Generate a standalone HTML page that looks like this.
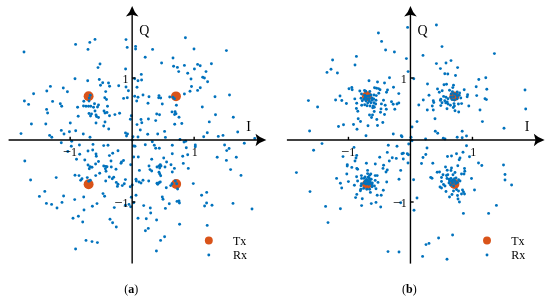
<!DOCTYPE html>
<html><head><meta charset="utf-8"><style>
html,body{margin:0;padding:0;background:#fff;}
svg{display:block;}
</style></head><body>
<svg width="550" height="300" viewBox="0 0 550 300">
<rect width="550" height="300" fill="#fff"/>
<circle cx="88.60" cy="96.25" r="4.95" fill="#D95319"/>
<circle cx="176.00" cy="96.35" r="4.95" fill="#D95319"/>
<circle cx="88.60" cy="184.30" r="4.95" fill="#D95319"/>
<circle cx="176.20" cy="184.00" r="4.95" fill="#D95319"/>
<circle cx="24.0" cy="52.0" r="1.45" fill="#0072BD"/>
<circle cx="75.6" cy="44.4" r="1.45" fill="#0072BD"/>
<circle cx="89.8" cy="42.4" r="1.45" fill="#0072BD"/>
<circle cx="95.0" cy="39.4" r="1.45" fill="#0072BD"/>
<circle cx="88.0" cy="49.4" r="1.45" fill="#0072BD"/>
<circle cx="100.0" cy="64.0" r="1.45" fill="#0072BD"/>
<circle cx="98.0" cy="67.6" r="1.45" fill="#0072BD"/>
<circle cx="126.0" cy="39.6" r="1.45" fill="#0072BD"/>
<circle cx="127.2" cy="47.4" r="1.45" fill="#0072BD"/>
<circle cx="135.6" cy="46.4" r="1.45" fill="#0072BD"/>
<circle cx="135.6" cy="49.0" r="1.45" fill="#0072BD"/>
<circle cx="152.6" cy="49.4" r="1.45" fill="#0072BD"/>
<circle cx="145.2" cy="57.2" r="1.45" fill="#0072BD"/>
<circle cx="161.6" cy="63.0" r="1.45" fill="#0072BD"/>
<circle cx="173.0" cy="58.0" r="1.45" fill="#0072BD"/>
<circle cx="173.6" cy="66.2" r="1.45" fill="#0072BD"/>
<circle cx="177.4" cy="67.4" r="1.45" fill="#0072BD"/>
<circle cx="125.6" cy="69.0" r="1.45" fill="#0072BD"/>
<circle cx="185.4" cy="37.8" r="1.45" fill="#0072BD"/>
<circle cx="194.0" cy="49.0" r="1.45" fill="#0072BD"/>
<circle cx="226.4" cy="50.6" r="1.45" fill="#0072BD"/>
<circle cx="184.4" cy="65.4" r="1.45" fill="#0072BD"/>
<circle cx="197.6" cy="64.4" r="1.45" fill="#0072BD"/>
<circle cx="200.2" cy="65.8" r="1.45" fill="#0072BD"/>
<circle cx="211.4" cy="63.8" r="1.45" fill="#0072BD"/>
<circle cx="194.4" cy="69.0" r="1.45" fill="#0072BD"/>
<circle cx="50.4" cy="86.4" r="1.45" fill="#0072BD"/>
<circle cx="46.8" cy="91.0" r="1.45" fill="#0072BD"/>
<circle cx="33.6" cy="93.8" r="1.45" fill="#0072BD"/>
<circle cx="24.4" cy="101.0" r="1.45" fill="#0072BD"/>
<circle cx="28.6" cy="104.4" r="1.45" fill="#0072BD"/>
<circle cx="52.6" cy="101.4" r="1.45" fill="#0072BD"/>
<circle cx="46.6" cy="109.4" r="1.45" fill="#0072BD"/>
<circle cx="47.6" cy="113.0" r="1.45" fill="#0072BD"/>
<circle cx="31.4" cy="124.0" r="1.45" fill="#0072BD"/>
<circle cx="45.8" cy="124.0" r="1.45" fill="#0072BD"/>
<circle cx="75.0" cy="78.8" r="1.45" fill="#0072BD"/>
<circle cx="63.3" cy="88.0" r="1.45" fill="#0072BD"/>
<circle cx="67.4" cy="91.8" r="1.45" fill="#0072BD"/>
<circle cx="87.7" cy="80.7" r="1.45" fill="#0072BD"/>
<circle cx="99.3" cy="79.5" r="1.45" fill="#0072BD"/>
<circle cx="102.7" cy="82.8" r="1.45" fill="#0072BD"/>
<circle cx="100.5" cy="85.3" r="1.45" fill="#0072BD"/>
<circle cx="108.5" cy="83.0" r="1.45" fill="#0072BD"/>
<circle cx="109.6" cy="86.2" r="1.45" fill="#0072BD"/>
<circle cx="105.7" cy="91.6" r="1.45" fill="#0072BD"/>
<circle cx="104.8" cy="97.8" r="1.45" fill="#0072BD"/>
<circle cx="89.3" cy="97.9" r="1.45" fill="#0072BD"/>
<circle cx="60.3" cy="103.7" r="1.45" fill="#0072BD"/>
<circle cx="61.7" cy="106.2" r="1.45" fill="#0072BD"/>
<circle cx="77.6" cy="107.2" r="1.45" fill="#0072BD"/>
<circle cx="78.2" cy="116.2" r="1.45" fill="#0072BD"/>
<circle cx="70.3" cy="123.0" r="1.45" fill="#0072BD"/>
<circle cx="83.8" cy="101.2" r="1.45" fill="#0072BD"/>
<circle cx="83.5" cy="106.0" r="1.45" fill="#0072BD"/>
<circle cx="89.0" cy="101.0" r="1.45" fill="#0072BD"/>
<circle cx="86.0" cy="106.2" r="1.45" fill="#0072BD"/>
<circle cx="88.5" cy="106.2" r="1.45" fill="#0072BD"/>
<circle cx="90.7" cy="106.2" r="1.45" fill="#0072BD"/>
<circle cx="94.5" cy="103.8" r="1.45" fill="#0072BD"/>
<circle cx="93.5" cy="107.2" r="1.45" fill="#0072BD"/>
<circle cx="98.5" cy="105.0" r="1.45" fill="#0072BD"/>
<circle cx="97.5" cy="107.0" r="1.45" fill="#0072BD"/>
<circle cx="95.0" cy="111.0" r="1.45" fill="#0072BD"/>
<circle cx="106.5" cy="99.5" r="1.45" fill="#0072BD"/>
<circle cx="107.5" cy="106.2" r="1.45" fill="#0072BD"/>
<circle cx="104.0" cy="111.0" r="1.45" fill="#0072BD"/>
<circle cx="105.0" cy="113.0" r="1.45" fill="#0072BD"/>
<circle cx="107.0" cy="112.5" r="1.45" fill="#0072BD"/>
<circle cx="89.0" cy="113.5" r="1.45" fill="#0072BD"/>
<circle cx="91.5" cy="114.0" r="1.45" fill="#0072BD"/>
<circle cx="90.5" cy="116.0" r="1.45" fill="#0072BD"/>
<circle cx="96.0" cy="115.0" r="1.45" fill="#0072BD"/>
<circle cx="96.5" cy="116.5" r="1.45" fill="#0072BD"/>
<circle cx="98.5" cy="117.5" r="1.45" fill="#0072BD"/>
<circle cx="96.0" cy="123.0" r="1.45" fill="#0072BD"/>
<circle cx="105.0" cy="122.0" r="1.45" fill="#0072BD"/>
<circle cx="141.3" cy="74.4" r="1.45" fill="#0072BD"/>
<circle cx="134.7" cy="78.7" r="1.45" fill="#0072BD"/>
<circle cx="138.0" cy="80.7" r="1.45" fill="#0072BD"/>
<circle cx="141.6" cy="80.0" r="1.45" fill="#0072BD"/>
<circle cx="118.7" cy="85.7" r="1.45" fill="#0072BD"/>
<circle cx="126.0" cy="87.0" r="1.45" fill="#0072BD"/>
<circle cx="128.4" cy="90.7" r="1.45" fill="#0072BD"/>
<circle cx="137.0" cy="87.3" r="1.45" fill="#0072BD"/>
<circle cx="123.6" cy="98.4" r="1.45" fill="#0072BD"/>
<circle cx="127.3" cy="97.7" r="1.45" fill="#0072BD"/>
<circle cx="134.7" cy="96.3" r="1.45" fill="#0072BD"/>
<circle cx="138.0" cy="97.3" r="1.45" fill="#0072BD"/>
<circle cx="143.0" cy="95.0" r="1.45" fill="#0072BD"/>
<circle cx="136.7" cy="101.0" r="1.45" fill="#0072BD"/>
<circle cx="149.0" cy="96.7" r="1.45" fill="#0072BD"/>
<circle cx="148.0" cy="103.3" r="1.45" fill="#0072BD"/>
<circle cx="178.7" cy="71.6" r="1.45" fill="#0072BD"/>
<circle cx="187.7" cy="73.3" r="1.45" fill="#0072BD"/>
<circle cx="159.0" cy="95.6" r="1.45" fill="#0072BD"/>
<circle cx="158.7" cy="97.7" r="1.45" fill="#0072BD"/>
<circle cx="160.7" cy="98.0" r="1.45" fill="#0072BD"/>
<circle cx="169.7" cy="97.0" r="1.45" fill="#0072BD"/>
<circle cx="173.0" cy="97.3" r="1.45" fill="#0072BD"/>
<circle cx="174.4" cy="98.7" r="1.45" fill="#0072BD"/>
<circle cx="162.3" cy="104.0" r="1.45" fill="#0072BD"/>
<circle cx="176.4" cy="105.3" r="1.45" fill="#0072BD"/>
<circle cx="206.0" cy="71.6" r="1.45" fill="#0072BD"/>
<circle cx="202.7" cy="77.3" r="1.45" fill="#0072BD"/>
<circle cx="204.4" cy="78.0" r="1.45" fill="#0072BD"/>
<circle cx="191.0" cy="79.0" r="1.45" fill="#0072BD"/>
<circle cx="191.5" cy="86.5" r="1.45" fill="#0072BD"/>
<circle cx="190.0" cy="91.3" r="1.45" fill="#0072BD"/>
<circle cx="184.4" cy="94.0" r="1.45" fill="#0072BD"/>
<circle cx="207.6" cy="81.7" r="1.45" fill="#0072BD"/>
<circle cx="200.3" cy="87.7" r="1.45" fill="#0072BD"/>
<circle cx="197.6" cy="90.4" r="1.45" fill="#0072BD"/>
<circle cx="215.0" cy="96.7" r="1.45" fill="#0072BD"/>
<circle cx="229.5" cy="95.0" r="1.45" fill="#0072BD"/>
<circle cx="202.3" cy="107.0" r="1.45" fill="#0072BD"/>
<circle cx="109.5" cy="115.8" r="1.45" fill="#0072BD"/>
<circle cx="114.9" cy="114.6" r="1.45" fill="#0072BD"/>
<circle cx="119.6" cy="113.2" r="1.45" fill="#0072BD"/>
<circle cx="131.3" cy="115.8" r="1.45" fill="#0072BD"/>
<circle cx="130.4" cy="119.2" r="1.45" fill="#0072BD"/>
<circle cx="141.0" cy="119.5" r="1.45" fill="#0072BD"/>
<circle cx="141.8" cy="122.8" r="1.45" fill="#0072BD"/>
<circle cx="137.0" cy="124.6" r="1.45" fill="#0072BD"/>
<circle cx="148.4" cy="119.0" r="1.45" fill="#0072BD"/>
<circle cx="156.7" cy="114.0" r="1.45" fill="#0072BD"/>
<circle cx="159.5" cy="114.8" r="1.45" fill="#0072BD"/>
<circle cx="155.7" cy="120.6" r="1.45" fill="#0072BD"/>
<circle cx="172.0" cy="111.9" r="1.45" fill="#0072BD"/>
<circle cx="175.1" cy="111.7" r="1.45" fill="#0072BD"/>
<circle cx="174.6" cy="114.5" r="1.45" fill="#0072BD"/>
<circle cx="176.0" cy="113.8" r="1.45" fill="#0072BD"/>
<circle cx="179.0" cy="117.2" r="1.45" fill="#0072BD"/>
<circle cx="174.7" cy="124.3" r="1.45" fill="#0072BD"/>
<circle cx="181.8" cy="123.5" r="1.45" fill="#0072BD"/>
<circle cx="215.5" cy="114.7" r="1.45" fill="#0072BD"/>
<circle cx="209.3" cy="121.9" r="1.45" fill="#0072BD"/>
<circle cx="233.3" cy="117.3" r="1.45" fill="#0072BD"/>
<circle cx="207.3" cy="132.8" r="1.45" fill="#0072BD"/>
<circle cx="203.7" cy="136.7" r="1.45" fill="#0072BD"/>
<circle cx="218.3" cy="136.4" r="1.45" fill="#0072BD"/>
<circle cx="223.0" cy="135.4" r="1.45" fill="#0072BD"/>
<circle cx="237.7" cy="132.0" r="1.45" fill="#0072BD"/>
<circle cx="224.6" cy="145.0" r="1.45" fill="#0072BD"/>
<circle cx="229.1" cy="148.5" r="1.45" fill="#0072BD"/>
<circle cx="226.7" cy="150.6" r="1.45" fill="#0072BD"/>
<circle cx="244.3" cy="143.3" r="1.45" fill="#0072BD"/>
<circle cx="217.2" cy="157.2" r="1.45" fill="#0072BD"/>
<circle cx="236.3" cy="157.2" r="1.45" fill="#0072BD"/>
<circle cx="226.4" cy="160.4" r="1.45" fill="#0072BD"/>
<circle cx="21.0" cy="133.6" r="1.45" fill="#0072BD"/>
<circle cx="49.6" cy="135.4" r="1.45" fill="#0072BD"/>
<circle cx="51.8" cy="137.2" r="1.45" fill="#0072BD"/>
<circle cx="24.8" cy="161.0" r="1.45" fill="#0072BD"/>
<circle cx="61.3" cy="130.4" r="1.45" fill="#0072BD"/>
<circle cx="64.0" cy="134.0" r="1.45" fill="#0072BD"/>
<circle cx="69.4" cy="131.7" r="1.45" fill="#0072BD"/>
<circle cx="75.7" cy="130.7" r="1.45" fill="#0072BD"/>
<circle cx="83.3" cy="134.0" r="1.45" fill="#0072BD"/>
<circle cx="90.0" cy="137.3" r="1.45" fill="#0072BD"/>
<circle cx="61.3" cy="142.7" r="1.45" fill="#0072BD"/>
<circle cx="71.7" cy="141.3" r="1.45" fill="#0072BD"/>
<circle cx="71.3" cy="146.3" r="1.45" fill="#0072BD"/>
<circle cx="79.4" cy="145.0" r="1.45" fill="#0072BD"/>
<circle cx="93.0" cy="144.4" r="1.45" fill="#0072BD"/>
<circle cx="67.8" cy="151.5" r="1.45" fill="#0072BD"/>
<circle cx="88.0" cy="151.0" r="1.45" fill="#0072BD"/>
<circle cx="92.7" cy="150.0" r="1.45" fill="#0072BD"/>
<circle cx="79.7" cy="154.3" r="1.45" fill="#0072BD"/>
<circle cx="76.5" cy="159.3" r="1.45" fill="#0072BD"/>
<circle cx="84.8" cy="160.0" r="1.45" fill="#0072BD"/>
<circle cx="103.7" cy="126.0" r="1.45" fill="#0072BD"/>
<circle cx="108.7" cy="129.0" r="1.45" fill="#0072BD"/>
<circle cx="125.5" cy="133.0" r="1.45" fill="#0072BD"/>
<circle cx="127.5" cy="134.0" r="1.45" fill="#0072BD"/>
<circle cx="126.5" cy="136.0" r="1.45" fill="#0072BD"/>
<circle cx="133.0" cy="136.7" r="1.45" fill="#0072BD"/>
<circle cx="132.3" cy="140.0" r="1.45" fill="#0072BD"/>
<circle cx="103.7" cy="145.6" r="1.45" fill="#0072BD"/>
<circle cx="108.0" cy="145.3" r="1.45" fill="#0072BD"/>
<circle cx="118.0" cy="150.7" r="1.45" fill="#0072BD"/>
<circle cx="112.7" cy="153.3" r="1.45" fill="#0072BD"/>
<circle cx="109.4" cy="155.6" r="1.45" fill="#0072BD"/>
<circle cx="96.0" cy="154.0" r="1.45" fill="#0072BD"/>
<circle cx="96.3" cy="156.3" r="1.45" fill="#0072BD"/>
<circle cx="133.7" cy="146.0" r="1.45" fill="#0072BD"/>
<circle cx="133.7" cy="157.0" r="1.45" fill="#0072BD"/>
<circle cx="140.3" cy="130.0" r="1.45" fill="#0072BD"/>
<circle cx="138.0" cy="137.0" r="1.45" fill="#0072BD"/>
<circle cx="147.7" cy="134.3" r="1.45" fill="#0072BD"/>
<circle cx="157.7" cy="134.0" r="1.45" fill="#0072BD"/>
<circle cx="164.6" cy="131.4" r="1.45" fill="#0072BD"/>
<circle cx="165.4" cy="137.4" r="1.45" fill="#0072BD"/>
<circle cx="152.3" cy="141.7" r="1.45" fill="#0072BD"/>
<circle cx="135.0" cy="146.3" r="1.45" fill="#0072BD"/>
<circle cx="145.3" cy="144.7" r="1.45" fill="#0072BD"/>
<circle cx="154.3" cy="145.3" r="1.45" fill="#0072BD"/>
<circle cx="155.7" cy="148.3" r="1.45" fill="#0072BD"/>
<circle cx="159.3" cy="148.3" r="1.45" fill="#0072BD"/>
<circle cx="172.3" cy="145.3" r="1.45" fill="#0072BD"/>
<circle cx="172.3" cy="153.7" r="1.45" fill="#0072BD"/>
<circle cx="138.3" cy="157.0" r="1.45" fill="#0072BD"/>
<circle cx="151.7" cy="159.3" r="1.45" fill="#0072BD"/>
<circle cx="163.7" cy="158.0" r="1.45" fill="#0072BD"/>
<circle cx="166.6" cy="162.0" r="1.45" fill="#0072BD"/>
<circle cx="160.3" cy="164.7" r="1.45" fill="#0072BD"/>
<circle cx="171.0" cy="164.7" r="1.45" fill="#0072BD"/>
<circle cx="180.0" cy="139.4" r="1.45" fill="#0072BD"/>
<circle cx="184.0" cy="142.0" r="1.45" fill="#0072BD"/>
<circle cx="185.7" cy="141.3" r="1.45" fill="#0072BD"/>
<circle cx="195.3" cy="145.0" r="1.45" fill="#0072BD"/>
<circle cx="195.3" cy="146.7" r="1.45" fill="#0072BD"/>
<circle cx="186.3" cy="147.7" r="1.45" fill="#0072BD"/>
<circle cx="182.7" cy="156.3" r="1.45" fill="#0072BD"/>
<circle cx="187.7" cy="154.7" r="1.45" fill="#0072BD"/>
<circle cx="183.3" cy="163.4" r="1.45" fill="#0072BD"/>
<circle cx="30.6" cy="180.0" r="1.45" fill="#0072BD"/>
<circle cx="56.2" cy="177.6" r="1.45" fill="#0072BD"/>
<circle cx="44.8" cy="191.4" r="1.45" fill="#0072BD"/>
<circle cx="39.4" cy="196.4" r="1.45" fill="#0072BD"/>
<circle cx="46.4" cy="203.4" r="1.45" fill="#0072BD"/>
<circle cx="51.6" cy="204.4" r="1.45" fill="#0072BD"/>
<circle cx="57.0" cy="208.0" r="1.45" fill="#0072BD"/>
<circle cx="88.0" cy="165.0" r="1.45" fill="#0072BD"/>
<circle cx="90.0" cy="166.7" r="1.45" fill="#0072BD"/>
<circle cx="92.0" cy="167.3" r="1.45" fill="#0072BD"/>
<circle cx="89.3" cy="168.7" r="1.45" fill="#0072BD"/>
<circle cx="95.6" cy="164.0" r="1.45" fill="#0072BD"/>
<circle cx="75.0" cy="175.3" r="1.45" fill="#0072BD"/>
<circle cx="79.0" cy="175.6" r="1.45" fill="#0072BD"/>
<circle cx="82.0" cy="178.7" r="1.45" fill="#0072BD"/>
<circle cx="80.7" cy="180.3" r="1.45" fill="#0072BD"/>
<circle cx="87.3" cy="177.6" r="1.45" fill="#0072BD"/>
<circle cx="95.7" cy="175.6" r="1.45" fill="#0072BD"/>
<circle cx="88.7" cy="181.3" r="1.45" fill="#0072BD"/>
<circle cx="63.6" cy="196.0" r="1.45" fill="#0072BD"/>
<circle cx="83.7" cy="197.0" r="1.45" fill="#0072BD"/>
<circle cx="74.7" cy="199.6" r="1.45" fill="#0072BD"/>
<circle cx="98.5" cy="161.5" r="1.45" fill="#0072BD"/>
<circle cx="111.0" cy="161.0" r="1.45" fill="#0072BD"/>
<circle cx="121.5" cy="162.0" r="1.45" fill="#0072BD"/>
<circle cx="123.5" cy="160.5" r="1.45" fill="#0072BD"/>
<circle cx="121.0" cy="163.3" r="1.45" fill="#0072BD"/>
<circle cx="130.7" cy="164.7" r="1.45" fill="#0072BD"/>
<circle cx="103.7" cy="166.0" r="1.45" fill="#0072BD"/>
<circle cx="105.7" cy="166.4" r="1.45" fill="#0072BD"/>
<circle cx="107.0" cy="166.7" r="1.45" fill="#0072BD"/>
<circle cx="105.4" cy="168.7" r="1.45" fill="#0072BD"/>
<circle cx="111.3" cy="167.0" r="1.45" fill="#0072BD"/>
<circle cx="106.0" cy="171.3" r="1.45" fill="#0072BD"/>
<circle cx="116.0" cy="169.3" r="1.45" fill="#0072BD"/>
<circle cx="99.7" cy="173.3" r="1.45" fill="#0072BD"/>
<circle cx="109.3" cy="177.0" r="1.45" fill="#0072BD"/>
<circle cx="112.3" cy="178.7" r="1.45" fill="#0072BD"/>
<circle cx="113.7" cy="177.3" r="1.45" fill="#0072BD"/>
<circle cx="105.7" cy="181.0" r="1.45" fill="#0072BD"/>
<circle cx="116.3" cy="182.4" r="1.45" fill="#0072BD"/>
<circle cx="118.0" cy="184.3" r="1.45" fill="#0072BD"/>
<circle cx="117.4" cy="186.4" r="1.45" fill="#0072BD"/>
<circle cx="125.4" cy="179.6" r="1.45" fill="#0072BD"/>
<circle cx="124.3" cy="183.7" r="1.45" fill="#0072BD"/>
<circle cx="122.3" cy="185.6" r="1.45" fill="#0072BD"/>
<circle cx="130.3" cy="186.7" r="1.45" fill="#0072BD"/>
<circle cx="132.3" cy="185.0" r="1.45" fill="#0072BD"/>
<circle cx="103.0" cy="193.6" r="1.45" fill="#0072BD"/>
<circle cx="104.6" cy="196.3" r="1.45" fill="#0072BD"/>
<circle cx="131.3" cy="197.3" r="1.45" fill="#0072BD"/>
<circle cx="149.0" cy="166.0" r="1.45" fill="#0072BD"/>
<circle cx="150.0" cy="169.6" r="1.45" fill="#0072BD"/>
<circle cx="151.7" cy="171.0" r="1.45" fill="#0072BD"/>
<circle cx="139.4" cy="170.4" r="1.45" fill="#0072BD"/>
<circle cx="157.0" cy="167.0" r="1.45" fill="#0072BD"/>
<circle cx="159.0" cy="166.0" r="1.45" fill="#0072BD"/>
<circle cx="161.0" cy="166.0" r="1.45" fill="#0072BD"/>
<circle cx="159.7" cy="168.0" r="1.45" fill="#0072BD"/>
<circle cx="165.0" cy="167.0" r="1.45" fill="#0072BD"/>
<circle cx="159.0" cy="172.3" r="1.45" fill="#0072BD"/>
<circle cx="159.7" cy="174.0" r="1.45" fill="#0072BD"/>
<circle cx="160.7" cy="175.7" r="1.45" fill="#0072BD"/>
<circle cx="172.3" cy="172.0" r="1.45" fill="#0072BD"/>
<circle cx="136.0" cy="179.3" r="1.45" fill="#0072BD"/>
<circle cx="136.3" cy="181.0" r="1.45" fill="#0072BD"/>
<circle cx="139.0" cy="182.0" r="1.45" fill="#0072BD"/>
<circle cx="141.0" cy="183.0" r="1.45" fill="#0072BD"/>
<circle cx="143.0" cy="180.3" r="1.45" fill="#0072BD"/>
<circle cx="148.7" cy="181.0" r="1.45" fill="#0072BD"/>
<circle cx="157.0" cy="183.3" r="1.45" fill="#0072BD"/>
<circle cx="159.0" cy="182.7" r="1.45" fill="#0072BD"/>
<circle cx="160.3" cy="182.0" r="1.45" fill="#0072BD"/>
<circle cx="157.7" cy="184.3" r="1.45" fill="#0072BD"/>
<circle cx="166.3" cy="187.7" r="1.45" fill="#0072BD"/>
<circle cx="136.0" cy="195.3" r="1.45" fill="#0072BD"/>
<circle cx="162.3" cy="197.0" r="1.45" fill="#0072BD"/>
<circle cx="163.0" cy="199.3" r="1.45" fill="#0072BD"/>
<circle cx="174.4" cy="168.4" r="1.45" fill="#0072BD"/>
<circle cx="188.3" cy="168.4" r="1.45" fill="#0072BD"/>
<circle cx="175.3" cy="181.0" r="1.45" fill="#0072BD"/>
<circle cx="176.7" cy="183.7" r="1.45" fill="#0072BD"/>
<circle cx="172.0" cy="183.7" r="1.45" fill="#0072BD"/>
<circle cx="170.7" cy="185.6" r="1.45" fill="#0072BD"/>
<circle cx="177.6" cy="189.0" r="1.45" fill="#0072BD"/>
<circle cx="193.3" cy="183.6" r="1.45" fill="#0072BD"/>
<circle cx="206.7" cy="192.4" r="1.45" fill="#0072BD"/>
<circle cx="201.6" cy="195.3" r="1.45" fill="#0072BD"/>
<circle cx="230.6" cy="169.6" r="1.45" fill="#0072BD"/>
<circle cx="241.0" cy="175.4" r="1.45" fill="#0072BD"/>
<circle cx="206.6" cy="203.0" r="1.45" fill="#0072BD"/>
<circle cx="204.6" cy="206.0" r="1.45" fill="#0072BD"/>
<circle cx="212.0" cy="205.2" r="1.45" fill="#0072BD"/>
<circle cx="233.0" cy="203.4" r="1.45" fill="#0072BD"/>
<circle cx="252.0" cy="209.0" r="1.45" fill="#0072BD"/>
<circle cx="62.0" cy="202.4" r="1.45" fill="#0072BD"/>
<circle cx="92.4" cy="206.3" r="1.45" fill="#0072BD"/>
<circle cx="97.0" cy="203.6" r="1.45" fill="#0072BD"/>
<circle cx="84.0" cy="210.0" r="1.45" fill="#0072BD"/>
<circle cx="73.0" cy="218.3" r="1.45" fill="#0072BD"/>
<circle cx="78.4" cy="216.3" r="1.45" fill="#0072BD"/>
<circle cx="82.7" cy="222.0" r="1.45" fill="#0072BD"/>
<circle cx="114.3" cy="207.6" r="1.45" fill="#0072BD"/>
<circle cx="125.4" cy="205.3" r="1.45" fill="#0072BD"/>
<circle cx="129.0" cy="204.4" r="1.45" fill="#0072BD"/>
<circle cx="130.7" cy="206.7" r="1.45" fill="#0072BD"/>
<circle cx="133.7" cy="202.7" r="1.45" fill="#0072BD"/>
<circle cx="110.0" cy="219.3" r="1.45" fill="#0072BD"/>
<circle cx="112.6" cy="222.7" r="1.45" fill="#0072BD"/>
<circle cx="116.3" cy="227.0" r="1.45" fill="#0072BD"/>
<circle cx="143.7" cy="205.6" r="1.45" fill="#0072BD"/>
<circle cx="150.3" cy="208.0" r="1.45" fill="#0072BD"/>
<circle cx="150.7" cy="213.0" r="1.45" fill="#0072BD"/>
<circle cx="169.3" cy="203.7" r="1.45" fill="#0072BD"/>
<circle cx="165.4" cy="208.4" r="1.45" fill="#0072BD"/>
<circle cx="138.0" cy="218.3" r="1.45" fill="#0072BD"/>
<circle cx="146.3" cy="218.7" r="1.45" fill="#0072BD"/>
<circle cx="156.6" cy="220.0" r="1.45" fill="#0072BD"/>
<circle cx="148.3" cy="228.4" r="1.45" fill="#0072BD"/>
<circle cx="145.4" cy="230.7" r="1.45" fill="#0072BD"/>
<circle cx="164.6" cy="236.7" r="1.45" fill="#0072BD"/>
<circle cx="177.0" cy="201.4" r="1.45" fill="#0072BD"/>
<circle cx="179.0" cy="201.0" r="1.45" fill="#0072BD"/>
<circle cx="179.4" cy="203.0" r="1.45" fill="#0072BD"/>
<circle cx="179.6" cy="224.2" r="1.45" fill="#0072BD"/>
<circle cx="207.2" cy="225.4" r="1.45" fill="#0072BD"/>
<circle cx="86.0" cy="240.4" r="1.45" fill="#0072BD"/>
<circle cx="92.0" cy="241.6" r="1.45" fill="#0072BD"/>
<circle cx="97.4" cy="242.6" r="1.45" fill="#0072BD"/>
<circle cx="75.6" cy="249.0" r="1.45" fill="#0072BD"/>
<circle cx="160.6" cy="240.4" r="1.45" fill="#0072BD"/>
<circle cx="156.4" cy="251.0" r="1.45" fill="#0072BD"/>
<circle cx="90.3" cy="180.2" r="1.45" fill="#0072BD"/>
<circle cx="254.7" cy="138.5" r="1.45" fill="#0072BD"/>
<circle cx="90.2" cy="95.2" r="1.45" fill="#0072BD"/>
<line x1="8.6" y1="140" x2="258.1" y2="140" stroke="#000" stroke-width="1.4"/>
<line x1="132.15" y1="263.6" x2="132.15" y2="14" stroke="#000" stroke-width="1.4"/>
<path d="M132.15,5.9 Q129.95,12.4 125.85,16.5 L132.15,14.8 L138.45,16.5 Q134.35,12.4 132.15,5.9Z" fill="#000"/>
<path d="M266.35,140 Q259.85,137.8 255.55,133.8 L257.25,140 L255.55,146.2 Q259.85,142.2 266.35,140Z" fill="#000"/>
<line x1="70.15" y1="140" x2="70.15" y2="136.8" stroke="#000" stroke-width="1.4"/>
<line x1="194.15" y1="140" x2="194.15" y2="136.8" stroke="#000" stroke-width="1.4"/>
<line x1="132.15" y1="78" x2="135.35" y2="78" stroke="#000" stroke-width="1.4"/>
<line x1="132.15" y1="202" x2="135.35" y2="202" stroke="#000" stroke-width="1.4"/>
<text x="69.85000000000001" y="155.6" font-family="Liberation Serif, serif" font-size="12" text-anchor="middle"><tspan font-size="14.5">−</tspan>1</text>
<text x="194.85" y="155.6" font-family="Liberation Serif, serif" font-size="12" text-anchor="middle">1</text>
<text x="128.55" y="82.5" font-family="Liberation Serif, serif" font-size="12" text-anchor="end">1</text>
<text x="128.55" y="206.5" font-family="Liberation Serif, serif" font-size="12" text-anchor="end"><tspan font-size="14.5">−</tspan>1</text>
<text x="139.15" y="35" font-family="Liberation Serif, serif" font-size="14">Q</text>
<text x="246.35000000000002" y="130.5" font-family="Liberation Serif, serif" font-size="14">I</text>
<circle cx="208.8" cy="240.5" r="3.95" fill="#D95319"/>
<circle cx="208.8" cy="255" r="1.45" fill="#0072BD"/>
<text x="232.9" y="244.9" font-family="Liberation Serif, serif" font-size="13" textLength="13.3" lengthAdjust="spacingAndGlyphs">Tx</text>
<text x="232.9" y="259.3" font-family="Liberation Serif, serif" font-size="13" textLength="14.0" lengthAdjust="spacingAndGlyphs">Rx</text>
<text x="131.15" y="293.4" font-family="Liberation Serif, serif" font-size="12" text-anchor="middle">(<tspan font-weight="bold">a</tspan>)</text>
<circle cx="366.90" cy="96.25" r="4.95" fill="#D95319"/>
<circle cx="454.30" cy="96.35" r="4.95" fill="#D95319"/>
<circle cx="366.90" cy="184.30" r="4.95" fill="#D95319"/>
<circle cx="454.50" cy="184.00" r="4.95" fill="#D95319"/>
<circle cx="332.6" cy="60.0" r="1.45" fill="#0072BD"/>
<circle cx="331.0" cy="69.2" r="1.45" fill="#0072BD"/>
<circle cx="378.4" cy="33.0" r="1.45" fill="#0072BD"/>
<circle cx="381.6" cy="41.4" r="1.45" fill="#0072BD"/>
<circle cx="385.6" cy="50.0" r="1.45" fill="#0072BD"/>
<circle cx="394.4" cy="52.0" r="1.45" fill="#0072BD"/>
<circle cx="356.4" cy="56.4" r="1.45" fill="#0072BD"/>
<circle cx="355.0" cy="65.0" r="1.45" fill="#0072BD"/>
<circle cx="407.6" cy="27.4" r="1.45" fill="#0072BD"/>
<circle cx="436.4" cy="25.0" r="1.45" fill="#0072BD"/>
<circle cx="442.0" cy="46.6" r="1.45" fill="#0072BD"/>
<circle cx="406.4" cy="58.6" r="1.45" fill="#0072BD"/>
<circle cx="423.0" cy="55.4" r="1.45" fill="#0072BD"/>
<circle cx="436.4" cy="63.6" r="1.45" fill="#0072BD"/>
<circle cx="446.0" cy="63.0" r="1.45" fill="#0072BD"/>
<circle cx="451.0" cy="60.6" r="1.45" fill="#0072BD"/>
<circle cx="440.4" cy="68.6" r="1.45" fill="#0072BD"/>
<circle cx="457.6" cy="67.6" r="1.45" fill="#0072BD"/>
<circle cx="494.4" cy="53.6" r="1.45" fill="#0072BD"/>
<circle cx="525.0" cy="90.0" r="1.45" fill="#0072BD"/>
<circle cx="525.7" cy="109.0" r="1.45" fill="#0072BD"/>
<circle cx="504.0" cy="128.3" r="1.45" fill="#0072BD"/>
<circle cx="327.0" cy="72.4" r="1.45" fill="#0072BD"/>
<circle cx="337.4" cy="73.0" r="1.45" fill="#0072BD"/>
<circle cx="308.4" cy="100.6" r="1.45" fill="#0072BD"/>
<circle cx="317.6" cy="107.0" r="1.45" fill="#0072BD"/>
<circle cx="335.6" cy="100.0" r="1.45" fill="#0072BD"/>
<circle cx="340.0" cy="96.0" r="1.45" fill="#0072BD"/>
<circle cx="349.0" cy="88.8" r="1.45" fill="#0072BD"/>
<circle cx="351.8" cy="87.5" r="1.45" fill="#0072BD"/>
<circle cx="352.2" cy="89.8" r="1.45" fill="#0072BD"/>
<circle cx="359.8" cy="91.0" r="1.45" fill="#0072BD"/>
<circle cx="364.5" cy="90.5" r="1.45" fill="#0072BD"/>
<circle cx="361.5" cy="94.0" r="1.45" fill="#0072BD"/>
<circle cx="389.5" cy="77.8" r="1.45" fill="#0072BD"/>
<circle cx="369.0" cy="80.8" r="1.45" fill="#0072BD"/>
<circle cx="377.5" cy="82.0" r="1.45" fill="#0072BD"/>
<circle cx="384.5" cy="83.0" r="1.45" fill="#0072BD"/>
<circle cx="393.5" cy="87.3" r="1.45" fill="#0072BD"/>
<circle cx="374.5" cy="87.8" r="1.45" fill="#0072BD"/>
<circle cx="376.5" cy="88.2" r="1.45" fill="#0072BD"/>
<circle cx="378.5" cy="88.6" r="1.45" fill="#0072BD"/>
<circle cx="380.0" cy="89.8" r="1.45" fill="#0072BD"/>
<circle cx="387.5" cy="90.0" r="1.45" fill="#0072BD"/>
<circle cx="386.5" cy="92.2" r="1.45" fill="#0072BD"/>
<circle cx="378.8" cy="93.2" r="1.45" fill="#0072BD"/>
<circle cx="369.8" cy="91.5" r="1.45" fill="#0072BD"/>
<circle cx="374.0" cy="95.0" r="1.45" fill="#0072BD"/>
<circle cx="376.3" cy="95.6" r="1.45" fill="#0072BD"/>
<circle cx="365.7" cy="91.3" r="1.45" fill="#0072BD"/>
<circle cx="371.0" cy="95.0" r="1.45" fill="#0072BD"/>
<circle cx="364.7" cy="95.3" r="1.45" fill="#0072BD"/>
<circle cx="367.0" cy="96.3" r="1.45" fill="#0072BD"/>
<circle cx="365.3" cy="97.3" r="1.45" fill="#0072BD"/>
<circle cx="369.0" cy="96.0" r="1.45" fill="#0072BD"/>
<circle cx="361.0" cy="98.3" r="1.45" fill="#0072BD"/>
<circle cx="364.0" cy="99.3" r="1.45" fill="#0072BD"/>
<circle cx="366.7" cy="99.0" r="1.45" fill="#0072BD"/>
<circle cx="369.3" cy="98.7" r="1.45" fill="#0072BD"/>
<circle cx="372.0" cy="98.0" r="1.45" fill="#0072BD"/>
<circle cx="373.7" cy="99.0" r="1.45" fill="#0072BD"/>
<circle cx="362.3" cy="100.7" r="1.45" fill="#0072BD"/>
<circle cx="366.0" cy="101.0" r="1.45" fill="#0072BD"/>
<circle cx="369.3" cy="101.3" r="1.45" fill="#0072BD"/>
<circle cx="372.0" cy="100.3" r="1.45" fill="#0072BD"/>
<circle cx="376.0" cy="100.3" r="1.45" fill="#0072BD"/>
<circle cx="367.7" cy="103.0" r="1.45" fill="#0072BD"/>
<circle cx="371.0" cy="102.7" r="1.45" fill="#0072BD"/>
<circle cx="374.0" cy="102.7" r="1.45" fill="#0072BD"/>
<circle cx="375.7" cy="104.0" r="1.45" fill="#0072BD"/>
<circle cx="361.7" cy="105.3" r="1.45" fill="#0072BD"/>
<circle cx="364.7" cy="104.7" r="1.45" fill="#0072BD"/>
<circle cx="367.0" cy="105.7" r="1.45" fill="#0072BD"/>
<circle cx="370.0" cy="106.0" r="1.45" fill="#0072BD"/>
<circle cx="373.3" cy="106.0" r="1.45" fill="#0072BD"/>
<circle cx="374.3" cy="107.3" r="1.45" fill="#0072BD"/>
<circle cx="356.7" cy="103.3" r="1.45" fill="#0072BD"/>
<circle cx="354.8" cy="98.9" r="1.45" fill="#0072BD"/>
<circle cx="346.4" cy="103.5" r="1.45" fill="#0072BD"/>
<circle cx="356.4" cy="108.5" r="1.45" fill="#0072BD"/>
<circle cx="381.0" cy="108.9" r="1.45" fill="#0072BD"/>
<circle cx="383.5" cy="100.2" r="1.45" fill="#0072BD"/>
<circle cx="381.4" cy="103.9" r="1.45" fill="#0072BD"/>
<circle cx="385.2" cy="105.2" r="1.45" fill="#0072BD"/>
<circle cx="372.7" cy="107.7" r="1.45" fill="#0072BD"/>
<circle cx="341.8" cy="100.5" r="1.45" fill="#0072BD"/>
<circle cx="357.8" cy="111.2" r="1.45" fill="#0072BD"/>
<circle cx="369.5" cy="115.0" r="1.45" fill="#0072BD"/>
<circle cx="358.2" cy="118.7" r="1.45" fill="#0072BD"/>
<circle cx="360.5" cy="121.5" r="1.45" fill="#0072BD"/>
<circle cx="353.5" cy="124.5" r="1.45" fill="#0072BD"/>
<circle cx="343.5" cy="124.7" r="1.45" fill="#0072BD"/>
<circle cx="338.5" cy="126.5" r="1.45" fill="#0072BD"/>
<circle cx="368.0" cy="125.8" r="1.45" fill="#0072BD"/>
<circle cx="357.0" cy="129.2" r="1.45" fill="#0072BD"/>
<circle cx="391.5" cy="101.8" r="1.45" fill="#0072BD"/>
<circle cx="393.2" cy="104.2" r="1.45" fill="#0072BD"/>
<circle cx="397.0" cy="104.0" r="1.45" fill="#0072BD"/>
<circle cx="398.8" cy="103.0" r="1.45" fill="#0072BD"/>
<circle cx="386.3" cy="109.3" r="1.45" fill="#0072BD"/>
<circle cx="394.8" cy="109.3" r="1.45" fill="#0072BD"/>
<circle cx="374.2" cy="111.5" r="1.45" fill="#0072BD"/>
<circle cx="380.5" cy="112.2" r="1.45" fill="#0072BD"/>
<circle cx="384.5" cy="114.5" r="1.45" fill="#0072BD"/>
<circle cx="372.5" cy="115.0" r="1.45" fill="#0072BD"/>
<circle cx="371.5" cy="117.5" r="1.45" fill="#0072BD"/>
<circle cx="376.8" cy="119.5" r="1.45" fill="#0072BD"/>
<circle cx="382.8" cy="122.5" r="1.45" fill="#0072BD"/>
<circle cx="377.5" cy="125.5" r="1.45" fill="#0072BD"/>
<circle cx="309.6" cy="131.0" r="1.45" fill="#0072BD"/>
<circle cx="322.0" cy="143.6" r="1.45" fill="#0072BD"/>
<circle cx="313.6" cy="150.2" r="1.45" fill="#0072BD"/>
<circle cx="296.4" cy="172.6" r="1.45" fill="#0072BD"/>
<circle cx="336.6" cy="178.4" r="1.45" fill="#0072BD"/>
<circle cx="366.0" cy="135.7" r="1.45" fill="#0072BD"/>
<circle cx="354.0" cy="147.4" r="1.45" fill="#0072BD"/>
<circle cx="343.0" cy="156.6" r="1.45" fill="#0072BD"/>
<circle cx="356.7" cy="155.4" r="1.45" fill="#0072BD"/>
<circle cx="356.0" cy="158.0" r="1.45" fill="#0072BD"/>
<circle cx="355.0" cy="161.0" r="1.45" fill="#0072BD"/>
<circle cx="366.4" cy="163.3" r="1.45" fill="#0072BD"/>
<circle cx="375.3" cy="164.0" r="1.45" fill="#0072BD"/>
<circle cx="379.7" cy="157.3" r="1.45" fill="#0072BD"/>
<circle cx="347.3" cy="164.7" r="1.45" fill="#0072BD"/>
<circle cx="417.0" cy="121.6" r="1.45" fill="#0072BD"/>
<circle cx="412.0" cy="127.0" r="1.45" fill="#0072BD"/>
<circle cx="393.3" cy="134.0" r="1.45" fill="#0072BD"/>
<circle cx="401.3" cy="135.7" r="1.45" fill="#0072BD"/>
<circle cx="402.0" cy="136.7" r="1.45" fill="#0072BD"/>
<circle cx="411.0" cy="137.3" r="1.45" fill="#0072BD"/>
<circle cx="410.7" cy="140.0" r="1.45" fill="#0072BD"/>
<circle cx="412.0" cy="140.7" r="1.45" fill="#0072BD"/>
<circle cx="408.7" cy="144.0" r="1.45" fill="#0072BD"/>
<circle cx="388.3" cy="145.3" r="1.45" fill="#0072BD"/>
<circle cx="397.0" cy="146.3" r="1.45" fill="#0072BD"/>
<circle cx="387.3" cy="152.4" r="1.45" fill="#0072BD"/>
<circle cx="402.0" cy="153.7" r="1.45" fill="#0072BD"/>
<circle cx="403.3" cy="153.3" r="1.45" fill="#0072BD"/>
<circle cx="407.3" cy="153.7" r="1.45" fill="#0072BD"/>
<circle cx="408.4" cy="154.7" r="1.45" fill="#0072BD"/>
<circle cx="392.3" cy="157.7" r="1.45" fill="#0072BD"/>
<circle cx="396.3" cy="158.4" r="1.45" fill="#0072BD"/>
<circle cx="403.3" cy="159.0" r="1.45" fill="#0072BD"/>
<circle cx="389.3" cy="161.0" r="1.45" fill="#0072BD"/>
<circle cx="408.0" cy="163.0" r="1.45" fill="#0072BD"/>
<circle cx="383.6" cy="165.3" r="1.45" fill="#0072BD"/>
<circle cx="383.0" cy="168.4" r="1.45" fill="#0072BD"/>
<circle cx="387.3" cy="170.0" r="1.45" fill="#0072BD"/>
<circle cx="386.0" cy="172.0" r="1.45" fill="#0072BD"/>
<circle cx="400.7" cy="170.4" r="1.45" fill="#0072BD"/>
<circle cx="399.0" cy="179.3" r="1.45" fill="#0072BD"/>
<circle cx="413.6" cy="179.7" r="1.45" fill="#0072BD"/>
<circle cx="427.3" cy="110.0" r="1.45" fill="#0072BD"/>
<circle cx="433.3" cy="110.0" r="1.45" fill="#0072BD"/>
<circle cx="455.0" cy="110.7" r="1.45" fill="#0072BD"/>
<circle cx="458.7" cy="112.0" r="1.45" fill="#0072BD"/>
<circle cx="435.0" cy="118.7" r="1.45" fill="#0072BD"/>
<circle cx="435.3" cy="131.3" r="1.45" fill="#0072BD"/>
<circle cx="437.7" cy="133.3" r="1.45" fill="#0072BD"/>
<circle cx="425.6" cy="139.0" r="1.45" fill="#0072BD"/>
<circle cx="443.3" cy="138.3" r="1.45" fill="#0072BD"/>
<circle cx="445.0" cy="139.0" r="1.45" fill="#0072BD"/>
<circle cx="427.0" cy="148.0" r="1.45" fill="#0072BD"/>
<circle cx="444.8" cy="73.7" r="1.45" fill="#0072BD"/>
<circle cx="447.8" cy="74.0" r="1.45" fill="#0072BD"/>
<circle cx="413.8" cy="78.7" r="1.45" fill="#0072BD"/>
<circle cx="427.5" cy="84.0" r="1.45" fill="#0072BD"/>
<circle cx="444.0" cy="84.8" r="1.45" fill="#0072BD"/>
<circle cx="446.5" cy="84.3" r="1.45" fill="#0072BD"/>
<circle cx="437.5" cy="89.0" r="1.45" fill="#0072BD"/>
<circle cx="442.2" cy="90.8" r="1.45" fill="#0072BD"/>
<circle cx="439.3" cy="92.2" r="1.45" fill="#0072BD"/>
<circle cx="449.5" cy="90.2" r="1.45" fill="#0072BD"/>
<circle cx="429.0" cy="95.2" r="1.45" fill="#0072BD"/>
<circle cx="455.5" cy="75.5" r="1.45" fill="#0072BD"/>
<circle cx="478.8" cy="79.5" r="1.45" fill="#0072BD"/>
<circle cx="485.8" cy="77.8" r="1.45" fill="#0072BD"/>
<circle cx="453.5" cy="85.2" r="1.45" fill="#0072BD"/>
<circle cx="452.8" cy="87.6" r="1.45" fill="#0072BD"/>
<circle cx="476.2" cy="86.8" r="1.45" fill="#0072BD"/>
<circle cx="464.2" cy="89.8" r="1.45" fill="#0072BD"/>
<circle cx="486.8" cy="89.2" r="1.45" fill="#0072BD"/>
<circle cx="452.4" cy="91.6" r="1.45" fill="#0072BD"/>
<circle cx="457.2" cy="92.0" r="1.45" fill="#0072BD"/>
<circle cx="459.6" cy="93.0" r="1.45" fill="#0072BD"/>
<circle cx="451.2" cy="94.0" r="1.45" fill="#0072BD"/>
<circle cx="454.0" cy="93.6" r="1.45" fill="#0072BD"/>
<circle cx="456.0" cy="94.4" r="1.45" fill="#0072BD"/>
<circle cx="450.8" cy="97.2" r="1.45" fill="#0072BD"/>
<circle cx="453.6" cy="96.8" r="1.45" fill="#0072BD"/>
<circle cx="457.2" cy="96.0" r="1.45" fill="#0072BD"/>
<circle cx="459.2" cy="95.2" r="1.45" fill="#0072BD"/>
<circle cx="443.6" cy="96.4" r="1.45" fill="#0072BD"/>
<circle cx="446.0" cy="97.2" r="1.45" fill="#0072BD"/>
<circle cx="467.6" cy="94.8" r="1.45" fill="#0072BD"/>
<circle cx="467.2" cy="96.8" r="1.45" fill="#0072BD"/>
<circle cx="460.8" cy="98.0" r="1.45" fill="#0072BD"/>
<circle cx="452.0" cy="99.6" r="1.45" fill="#0072BD"/>
<circle cx="454.4" cy="100.0" r="1.45" fill="#0072BD"/>
<circle cx="457.2" cy="98.8" r="1.45" fill="#0072BD"/>
<circle cx="448.0" cy="98.8" r="1.45" fill="#0072BD"/>
<circle cx="440.8" cy="99.2" r="1.45" fill="#0072BD"/>
<circle cx="444.8" cy="100.8" r="1.45" fill="#0072BD"/>
<circle cx="447.2" cy="102.0" r="1.45" fill="#0072BD"/>
<circle cx="448.0" cy="104.0" r="1.45" fill="#0072BD"/>
<circle cx="442.0" cy="102.8" r="1.45" fill="#0072BD"/>
<circle cx="450.4" cy="105.2" r="1.45" fill="#0072BD"/>
<circle cx="454.0" cy="103.6" r="1.45" fill="#0072BD"/>
<circle cx="454.4" cy="106.0" r="1.45" fill="#0072BD"/>
<circle cx="458.4" cy="104.0" r="1.45" fill="#0072BD"/>
<circle cx="461.6" cy="103.6" r="1.45" fill="#0072BD"/>
<circle cx="440.8" cy="105.6" r="1.45" fill="#0072BD"/>
<circle cx="468.8" cy="106.0" r="1.45" fill="#0072BD"/>
<circle cx="476.7" cy="95.6" r="1.45" fill="#0072BD"/>
<circle cx="485.0" cy="98.7" r="1.45" fill="#0072BD"/>
<circle cx="486.4" cy="99.6" r="1.45" fill="#0072BD"/>
<circle cx="480.0" cy="110.0" r="1.45" fill="#0072BD"/>
<circle cx="482.4" cy="121.6" r="1.45" fill="#0072BD"/>
<circle cx="423.3" cy="100.0" r="1.45" fill="#0072BD"/>
<circle cx="433.3" cy="100.8" r="1.45" fill="#0072BD"/>
<circle cx="433.8" cy="102.5" r="1.45" fill="#0072BD"/>
<circle cx="440.4" cy="100.4" r="1.45" fill="#0072BD"/>
<circle cx="445.8" cy="102.9" r="1.45" fill="#0072BD"/>
<circle cx="432.3" cy="106.0" r="1.45" fill="#0072BD"/>
<circle cx="453.3" cy="107.5" r="1.45" fill="#0072BD"/>
<circle cx="447.0" cy="108.8" r="1.45" fill="#0072BD"/>
<circle cx="347.2" cy="166.0" r="1.45" fill="#0072BD"/>
<circle cx="351.8" cy="167.4" r="1.45" fill="#0072BD"/>
<circle cx="356.8" cy="168.4" r="1.45" fill="#0072BD"/>
<circle cx="357.6" cy="169.2" r="1.45" fill="#0072BD"/>
<circle cx="367.6" cy="170.4" r="1.45" fill="#0072BD"/>
<circle cx="367.6" cy="173.6" r="1.45" fill="#0072BD"/>
<circle cx="346.8" cy="174.0" r="1.45" fill="#0072BD"/>
<circle cx="361.4" cy="175.6" r="1.45" fill="#0072BD"/>
<circle cx="356.6" cy="176.8" r="1.45" fill="#0072BD"/>
<circle cx="361.6" cy="178.4" r="1.45" fill="#0072BD"/>
<circle cx="364.0" cy="178.4" r="1.45" fill="#0072BD"/>
<circle cx="357.6" cy="181.0" r="1.45" fill="#0072BD"/>
<circle cx="348.4" cy="181.6" r="1.45" fill="#0072BD"/>
<circle cx="369.6" cy="175.2" r="1.45" fill="#0072BD"/>
<circle cx="370.8" cy="174.0" r="1.45" fill="#0072BD"/>
<circle cx="368.8" cy="177.6" r="1.45" fill="#0072BD"/>
<circle cx="371.2" cy="179.2" r="1.45" fill="#0072BD"/>
<circle cx="367.6" cy="180.4" r="1.45" fill="#0072BD"/>
<circle cx="340.4" cy="183.2" r="1.45" fill="#0072BD"/>
<circle cx="375.2" cy="175.6" r="1.45" fill="#0072BD"/>
<circle cx="377.2" cy="175.6" r="1.45" fill="#0072BD"/>
<circle cx="366.0" cy="180.8" r="1.45" fill="#0072BD"/>
<circle cx="375.2" cy="180.4" r="1.45" fill="#0072BD"/>
<circle cx="378.0" cy="182.4" r="1.45" fill="#0072BD"/>
<circle cx="364.4" cy="183.2" r="1.45" fill="#0072BD"/>
<circle cx="367.6" cy="183.6" r="1.45" fill="#0072BD"/>
<circle cx="370.4" cy="183.2" r="1.45" fill="#0072BD"/>
<circle cx="372.0" cy="184.8" r="1.45" fill="#0072BD"/>
<circle cx="374.4" cy="186.0" r="1.45" fill="#0072BD"/>
<circle cx="354.4" cy="185.2" r="1.45" fill="#0072BD"/>
<circle cx="363.6" cy="188.4" r="1.45" fill="#0072BD"/>
<circle cx="366.8" cy="189.2" r="1.45" fill="#0072BD"/>
<circle cx="369.6" cy="189.2" r="1.45" fill="#0072BD"/>
<circle cx="376.0" cy="188.8" r="1.45" fill="#0072BD"/>
<circle cx="360.8" cy="189.2" r="1.45" fill="#0072BD"/>
<circle cx="360.4" cy="190.8" r="1.45" fill="#0072BD"/>
<circle cx="370.4" cy="192.4" r="1.45" fill="#0072BD"/>
<circle cx="356.8" cy="194.4" r="1.45" fill="#0072BD"/>
<circle cx="377.2" cy="195.2" r="1.45" fill="#0072BD"/>
<circle cx="381.2" cy="195.2" r="1.45" fill="#0072BD"/>
<circle cx="341.7" cy="188.0" r="1.45" fill="#0072BD"/>
<circle cx="355.6" cy="197.6" r="1.45" fill="#0072BD"/>
<circle cx="362.3" cy="198.7" r="1.45" fill="#0072BD"/>
<circle cx="361.6" cy="205.6" r="1.45" fill="#0072BD"/>
<circle cx="340.4" cy="208.7" r="1.45" fill="#0072BD"/>
<circle cx="386.7" cy="182.0" r="1.45" fill="#0072BD"/>
<circle cx="372.0" cy="186.7" r="1.45" fill="#0072BD"/>
<circle cx="383.3" cy="190.3" r="1.45" fill="#0072BD"/>
<circle cx="371.3" cy="203.6" r="1.45" fill="#0072BD"/>
<circle cx="376.0" cy="202.4" r="1.45" fill="#0072BD"/>
<circle cx="380.7" cy="207.0" r="1.45" fill="#0072BD"/>
<circle cx="400.7" cy="202.7" r="1.45" fill="#0072BD"/>
<circle cx="310.0" cy="191.6" r="1.45" fill="#0072BD"/>
<circle cx="325.6" cy="206.4" r="1.45" fill="#0072BD"/>
<circle cx="328.0" cy="222.6" r="1.45" fill="#0072BD"/>
<circle cx="388.0" cy="251.6" r="1.45" fill="#0072BD"/>
<circle cx="399.0" cy="252.0" r="1.45" fill="#0072BD"/>
<circle cx="425.8" cy="154.5" r="1.45" fill="#0072BD"/>
<circle cx="423.0" cy="157.5" r="1.45" fill="#0072BD"/>
<circle cx="421.5" cy="163.5" r="1.45" fill="#0072BD"/>
<circle cx="432.8" cy="163.3" r="1.45" fill="#0072BD"/>
<circle cx="447.5" cy="156.5" r="1.45" fill="#0072BD"/>
<circle cx="445.5" cy="167.0" r="1.45" fill="#0072BD"/>
<circle cx="447.2" cy="170.2" r="1.45" fill="#0072BD"/>
<circle cx="437.2" cy="172.2" r="1.45" fill="#0072BD"/>
<circle cx="439.5" cy="172.0" r="1.45" fill="#0072BD"/>
<circle cx="443.0" cy="174.8" r="1.45" fill="#0072BD"/>
<circle cx="447.8" cy="174.8" r="1.45" fill="#0072BD"/>
<circle cx="466.5" cy="145.8" r="1.45" fill="#0072BD"/>
<circle cx="463.0" cy="152.2" r="1.45" fill="#0072BD"/>
<circle cx="456.5" cy="153.8" r="1.45" fill="#0072BD"/>
<circle cx="451.5" cy="156.0" r="1.45" fill="#0072BD"/>
<circle cx="469.5" cy="156.8" r="1.45" fill="#0072BD"/>
<circle cx="460.0" cy="158.0" r="1.45" fill="#0072BD"/>
<circle cx="459.2" cy="159.8" r="1.45" fill="#0072BD"/>
<circle cx="478.5" cy="163.0" r="1.45" fill="#0072BD"/>
<circle cx="481.8" cy="165.5" r="1.45" fill="#0072BD"/>
<circle cx="457.8" cy="165.7" r="1.45" fill="#0072BD"/>
<circle cx="451.5" cy="168.0" r="1.45" fill="#0072BD"/>
<circle cx="451.0" cy="170.5" r="1.45" fill="#0072BD"/>
<circle cx="464.5" cy="168.5" r="1.45" fill="#0072BD"/>
<circle cx="464.8" cy="171.2" r="1.45" fill="#0072BD"/>
<circle cx="455.0" cy="172.5" r="1.45" fill="#0072BD"/>
<circle cx="453.0" cy="174.8" r="1.45" fill="#0072BD"/>
<circle cx="461.5" cy="174.0" r="1.45" fill="#0072BD"/>
<circle cx="464.0" cy="174.0" r="1.45" fill="#0072BD"/>
<circle cx="446.5" cy="175.5" r="1.45" fill="#0072BD"/>
<circle cx="441.5" cy="177.5" r="1.45" fill="#0072BD"/>
<circle cx="447.0" cy="178.5" r="1.45" fill="#0072BD"/>
<circle cx="451.0" cy="178.5" r="1.45" fill="#0072BD"/>
<circle cx="456.0" cy="178.0" r="1.45" fill="#0072BD"/>
<circle cx="471.5" cy="178.5" r="1.45" fill="#0072BD"/>
<circle cx="449.5" cy="181.0" r="1.45" fill="#0072BD"/>
<circle cx="453.0" cy="180.0" r="1.45" fill="#0072BD"/>
<circle cx="460.0" cy="181.0" r="1.45" fill="#0072BD"/>
<circle cx="441.5" cy="181.5" r="1.45" fill="#0072BD"/>
<circle cx="449.0" cy="183.0" r="1.45" fill="#0072BD"/>
<circle cx="452.5" cy="183.0" r="1.45" fill="#0072BD"/>
<circle cx="457.5" cy="182.5" r="1.45" fill="#0072BD"/>
<circle cx="443.5" cy="184.5" r="1.45" fill="#0072BD"/>
<circle cx="450.5" cy="185.0" r="1.45" fill="#0072BD"/>
<circle cx="453.5" cy="186.0" r="1.45" fill="#0072BD"/>
<circle cx="445.0" cy="186.0" r="1.45" fill="#0072BD"/>
<circle cx="440.0" cy="187.0" r="1.45" fill="#0072BD"/>
<circle cx="441.5" cy="188.0" r="1.45" fill="#0072BD"/>
<circle cx="456.5" cy="189.5" r="1.45" fill="#0072BD"/>
<circle cx="446.0" cy="191.5" r="1.45" fill="#0072BD"/>
<circle cx="453.5" cy="191.0" r="1.45" fill="#0072BD"/>
<circle cx="458.5" cy="191.0" r="1.45" fill="#0072BD"/>
<circle cx="462.5" cy="190.0" r="1.45" fill="#0072BD"/>
<circle cx="463.5" cy="192.0" r="1.45" fill="#0072BD"/>
<circle cx="461.5" cy="194.0" r="1.45" fill="#0072BD"/>
<circle cx="464.5" cy="194.0" r="1.45" fill="#0072BD"/>
<circle cx="474.5" cy="190.0" r="1.45" fill="#0072BD"/>
<circle cx="452.0" cy="194.5" r="1.45" fill="#0072BD"/>
<circle cx="457.5" cy="195.5" r="1.45" fill="#0072BD"/>
<circle cx="449.5" cy="197.0" r="1.45" fill="#0072BD"/>
<circle cx="458.0" cy="199.0" r="1.45" fill="#0072BD"/>
<circle cx="430.7" cy="177.4" r="1.45" fill="#0072BD"/>
<circle cx="432.0" cy="178.3" r="1.45" fill="#0072BD"/>
<circle cx="417.0" cy="198.0" r="1.45" fill="#0072BD"/>
<circle cx="414.0" cy="210.3" r="1.45" fill="#0072BD"/>
<circle cx="459.4" cy="202.0" r="1.45" fill="#0072BD"/>
<circle cx="496.4" cy="205.4" r="1.45" fill="#0072BD"/>
<circle cx="463.4" cy="213.4" r="1.45" fill="#0072BD"/>
<circle cx="488.6" cy="213.4" r="1.45" fill="#0072BD"/>
<circle cx="452.6" cy="235.0" r="1.45" fill="#0072BD"/>
<circle cx="438.6" cy="238.0" r="1.45" fill="#0072BD"/>
<circle cx="426.0" cy="244.6" r="1.45" fill="#0072BD"/>
<circle cx="429.0" cy="243.4" r="1.45" fill="#0072BD"/>
<circle cx="422.6" cy="256.4" r="1.45" fill="#0072BD"/>
<circle cx="447.0" cy="259.2" r="1.45" fill="#0072BD"/>
<circle cx="503.5" cy="165.0" r="1.45" fill="#0072BD"/>
<circle cx="505.0" cy="174.5" r="1.45" fill="#0072BD"/>
<circle cx="505.0" cy="180.0" r="1.45" fill="#0072BD"/>
<circle cx="511.6" cy="185.0" r="1.45" fill="#0072BD"/>
<circle cx="462.2" cy="131.2" r="1.45" fill="#0072BD"/>
<circle cx="462.2" cy="137.8" r="1.45" fill="#0072BD"/>
<circle cx="466.5" cy="136.0" r="1.45" fill="#0072BD"/>
<circle cx="457.2" cy="137.3" r="1.45" fill="#0072BD"/>
<circle cx="398.8" cy="93.6" r="1.45" fill="#0072BD"/>
<circle cx="418.8" cy="105.0" r="1.45" fill="#0072BD"/>
<circle cx="408.1" cy="71.6" r="1.45" fill="#0072BD"/>
<circle cx="365.0" cy="177.0" r="1.45" fill="#0072BD"/>
<circle cx="368.0" cy="177.3" r="1.45" fill="#0072BD"/>
<circle cx="366.5" cy="179.5" r="1.45" fill="#0072BD"/>
<circle cx="369.5" cy="179.0" r="1.45" fill="#0072BD"/>
<circle cx="365.0" cy="181.5" r="1.45" fill="#0072BD"/>
<circle cx="367.8" cy="181.8" r="1.45" fill="#0072BD"/>
<circle cx="370.0" cy="181.5" r="1.45" fill="#0072BD"/>
<circle cx="372.3" cy="183.0" r="1.45" fill="#0072BD"/>
<circle cx="366.2" cy="184.0" r="1.45" fill="#0072BD"/>
<circle cx="368.8" cy="184.3" r="1.45" fill="#0072BD"/>
<circle cx="361.5" cy="183.8" r="1.45" fill="#0072BD"/>
<circle cx="361.0" cy="185.8" r="1.45" fill="#0072BD"/>
<circle cx="454.5" cy="178.6" r="1.45" fill="#0072BD"/>
<circle cx="455.0" cy="181.2" r="1.45" fill="#0072BD"/>
<circle cx="451.6" cy="181.0" r="1.45" fill="#0072BD"/>
<circle cx="458.6" cy="179.8" r="1.45" fill="#0072BD"/>
<circle cx="449.3" cy="179.3" r="1.45" fill="#0072BD"/>
<circle cx="455.8" cy="183.5" r="1.45" fill="#0072BD"/>
<line x1="286.9" y1="140" x2="536.5" y2="140" stroke="#000" stroke-width="1.4"/>
<line x1="410.45" y1="263.6" x2="410.45" y2="14" stroke="#000" stroke-width="1.4"/>
<path d="M410.45,5.9 Q408.25,12.4 404.15,16.5 L410.45,14.8 L416.75,16.5 Q412.65,12.4 410.45,5.9Z" fill="#000"/>
<path d="M544.65,140 Q538.15,137.8 533.85,133.8 L535.55,140 L533.85,146.2 Q538.15,142.2 544.65,140Z" fill="#000"/>
<line x1="348.45" y1="140" x2="348.45" y2="136.8" stroke="#000" stroke-width="1.4"/>
<line x1="472.45" y1="140" x2="472.45" y2="136.8" stroke="#000" stroke-width="1.4"/>
<line x1="410.45" y1="78" x2="413.65" y2="78" stroke="#000" stroke-width="1.4"/>
<line x1="410.45" y1="202" x2="413.65" y2="202" stroke="#000" stroke-width="1.4"/>
<text x="348.15" y="155.6" font-family="Liberation Serif, serif" font-size="12" text-anchor="middle"><tspan font-size="14.5">−</tspan>1</text>
<text x="473.15" y="155.6" font-family="Liberation Serif, serif" font-size="12" text-anchor="middle">1</text>
<text x="406.84999999999997" y="82.5" font-family="Liberation Serif, serif" font-size="12" text-anchor="end">1</text>
<text x="406.84999999999997" y="206.5" font-family="Liberation Serif, serif" font-size="12" text-anchor="end"><tspan font-size="14.5">−</tspan>1</text>
<text x="417.45" y="35" font-family="Liberation Serif, serif" font-size="14">Q</text>
<text x="524.65" y="130.5" font-family="Liberation Serif, serif" font-size="14">I</text>
<circle cx="487.0" cy="240.5" r="3.95" fill="#D95319"/>
<circle cx="487.0" cy="255" r="1.45" fill="#0072BD"/>
<text x="511.2" y="244.9" font-family="Liberation Serif, serif" font-size="13" textLength="13.3" lengthAdjust="spacingAndGlyphs">Tx</text>
<text x="511.2" y="259.3" font-family="Liberation Serif, serif" font-size="13" textLength="14.0" lengthAdjust="spacingAndGlyphs">Rx</text>
<text x="409.45" y="293.4" font-family="Liberation Serif, serif" font-size="12" text-anchor="middle">(<tspan font-weight="bold">b</tspan>)</text>
</svg>
</body></html>
